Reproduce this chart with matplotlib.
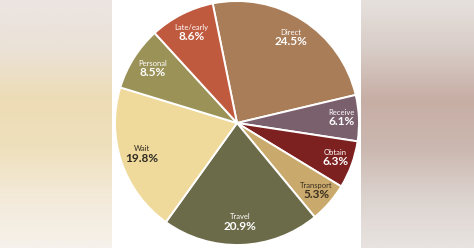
import numpy as np
import matplotlib.pyplot as plt
from matplotlib.colors import LinearSegmentedColormap

labels = ["Direct", "Receive", "Obtain", "Transport", "Travel", "Wait", "Personal", "Late/early"]
shares = [24.5, 6.1, 6.3, 5.3, 20.9, 19.8, 8.5, 8.6]
colors = ["#a97d58", "#7a5f6d", "#7c2120", "#caa96c", "#6c6b49", "#efd99b", "#9b9257", "#c05a3e"]
text_colors = ["white", "white", "white", "#3a2f20", "white", "#2e2a22", "white", "white"]

fig = plt.figure(figsize=(4.74, 2.48), dpi=100)
fig.patch.set_facecolor("white")

# blurred side bands
def band(ax, stops):
    cmap = LinearSegmentedColormap.from_list("b", stops)
    v = np.linspace(0, 1, 200)[:, None]
    ax.imshow(np.repeat(v, 10, axis=1), cmap=cmap, aspect="auto", extent=[0, 1, 1, 0])
    ax.axis("off")

axl = fig.add_axes([0, 0, 112 / 474, 1])
band(axl, ["#ebe5e2", "#ebe2d6", "#eddcb5", "#efe0bd", "#f3ead9", "#f6f1ea"])
axr = fig.add_axes([361 / 474, 0, 113 / 474, 1])
band(axr, ["#e6e0dd", "#d8ccc6", "#c7aea5", "#cbb8b0", "#dcd3ce", "#e8e3e0"])

ax = fig.add_axes([115 / 474, 3 / 248, 244 / 474, 244 / 248])
wedges, _ = ax.pie(shares, colors=colors, startangle=101.5, counterclock=False,
                   radius=1, wedgeprops=dict(edgecolor="white", linewidth=1.4))
ax.set_xlim(-1, 1)
ax.set_ylim(-1, 1)
ax.set_aspect("equal")
ax.axis("off")

for w, name, val, tc in zip(wedges, labels, shares, text_colors):
    ang = np.deg2rad((w.theta1 + w.theta2) / 2)
    d = 0.86 if val < 7 else 0.82
    x, y = d * np.cos(ang), d * np.sin(ang) - 0.02
    ax.text(x, y + 0.045, name, ha="center", va="bottom", fontsize=5.5,
            family="Lato", color=tc)
    ax.text(x, y + 0.04, f"{val}%", ha="center", va="top", fontsize=8.5,
            family="Lato", weight="bold", color=tc)

fig.savefig("out.png", dpi=100)
